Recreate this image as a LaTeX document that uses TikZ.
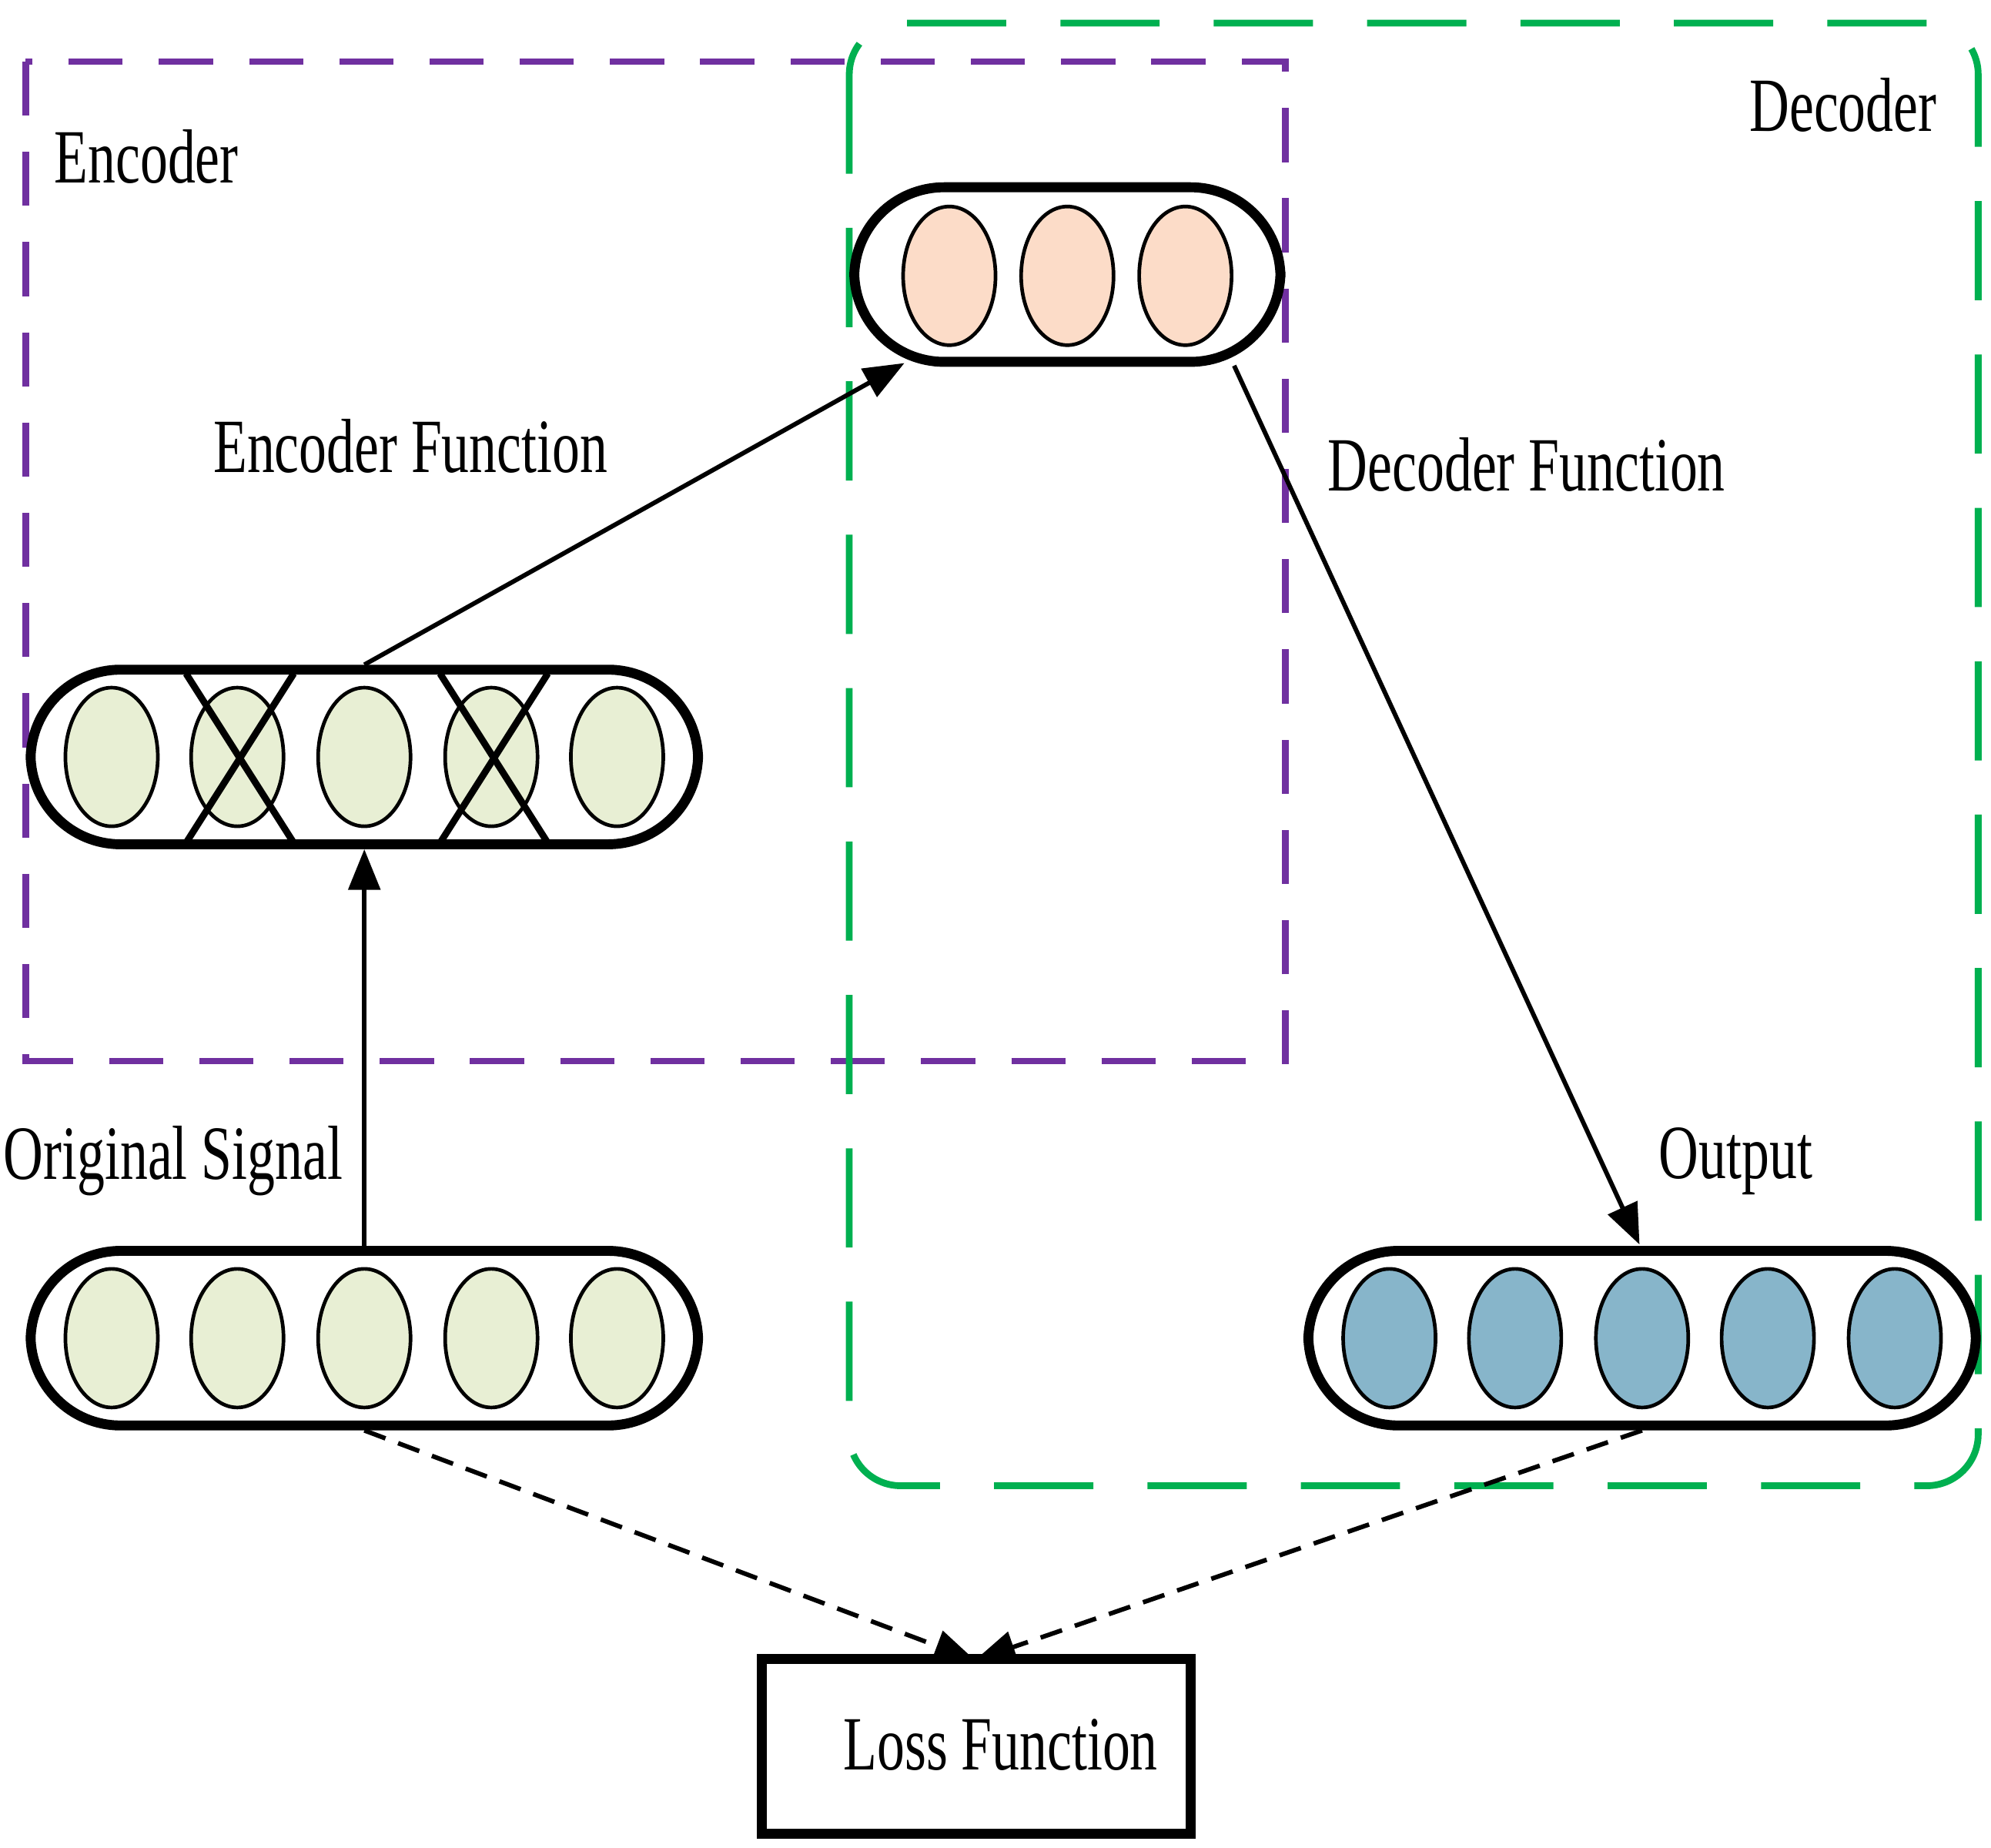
\documentclass[tikz,border=0pt]{standalone}
\usepackage{fontspec}
\setmainfont{Liberation Serif}[FakeStretch=0.72]
\usetikzlibrary{shapes.geometric,arrows.meta}
\definecolor{peach}{RGB}{252,220,200}
\definecolor{sage}{RGB}{232,239,212}
\definecolor{steel}{RGB}{135,181,202}
\definecolor{encpurple}{RGB}{112,48,160}
\definecolor{decgreen}{RGB}{0,176,80}
\tikzset{
  pill/.style={draw, line width=2.2pt, rounded corners=0.7cm, minimum width=5.2cm, minimum height=1.36cm},
  unit/.style={draw, ellipse, line width=0.8pt, minimum width=0.72cm, minimum height=1.08cm},
  lbl/.style={font=\fontsize{17}{20}\selectfont},
  arr/.style={-{Triangle[length=9pt,width=7pt]}, line width=1pt}
}
\begin{document}
\begin{tikzpicture}[x=0.01cm,y=-0.01cm]
  \useasboundingbox (0,0) rectangle (1552,1440);
  % boxes
  \draw [encpurple, line width=1.5pt, dash pattern=on 12pt off 8pt] (20,48) rectangle (1002,827);
  \draw [decgreen, line width=1.5pt, dash pattern=on 22pt off 12pt, rounded corners=0.4cm] (662,18) rectangle (1542,1158);
  \node [lbl, anchor=west] (enc) at (30,122) {Encoder};
  \node [lbl, anchor=east] (dec) at (1522,82) {Decoder};
  % layers
  \node [pill, minimum width=3.32cm] (code) at (832,214) {};
  \foreach \x in {740,832,924}
    \node [unit, fill=peach] at (\x,215) {};
  \node [pill] (hidden) at (284,590) {};
  \foreach \x in {87,185,284,383,481}
    \node [unit, fill=sage] at (\x,590) {};
  \foreach \x in {185,383}{
    \draw [line width=1.5pt] (\x-40,525) -- (\x+44,657);
    \draw [line width=1.5pt] (\x-40,657) -- (\x+44,525);
  }
  \node [pill] (input) at (284,1043) {};
  \foreach \x in {87,185,284,383,481}
    \node [unit, fill=sage] at (\x,1043) {};
  \node [pill] (output) at (1280,1043) {};
  \foreach \x in {1083,1181,1280,1378,1477}
    \node [unit, fill=steel] at (\x,1043) {};
  \node [draw, line width=2.2pt, minimum width=3.34cm, minimum height=1.36cm] (loss) at (761,1361) {};
  \node [lbl] at (780,1360) {Loss Function};
  % labels
  \node [lbl] (encf) at (320,348) {Encoder Function};
  \node [lbl] (decf) at (1190,362) {Decoder Function};
  \node [lbl] (orig) at (135,905) {Original Signal};
  \node [lbl] (outl) at (1353,905) {Output};
  % connectors
  \coordinate (c1) at (705,283);
  \coordinate (c2) at (962,285);
  \coordinate (o1) at (1278,970);
  \coordinate (l1) at (760,1294);
  \draw [arr] (input.north) -- (hidden.south);
  \draw [arr] (hidden.north) -- (c1);
  \draw [arr] (c2) -- (o1);
  \draw [arr, dashed, dash pattern=on 5pt off 3pt] (input.south) -- (l1);
  \draw [arr, dashed, dash pattern=on 5pt off 3pt] (output.south) -- (l1);
\end{tikzpicture}
\end{document}
